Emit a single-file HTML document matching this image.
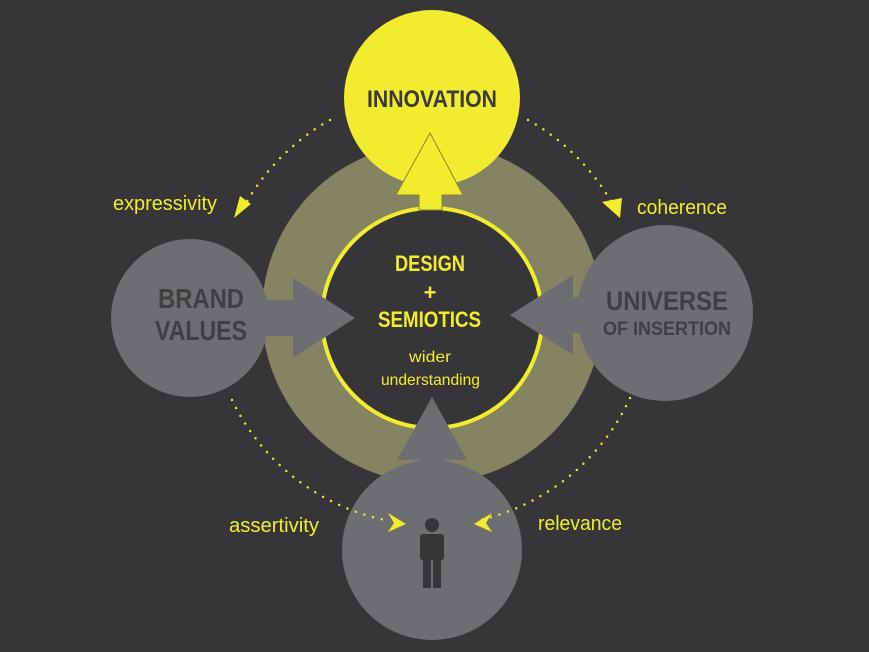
<!DOCTYPE html>
<html><head><meta charset="utf-8"><style>
html,body{margin:0;padding:0;background:#363638;}
svg{display:block}
.t{font-family:"Liberation Sans",sans-serif;font-weight:bold;}
.l{font-family:"Liberation Sans",sans-serif;}
</style></head><body>
<svg width="869" height="652" viewBox="0 0 869 652" xmlns="http://www.w3.org/2000/svg">
<rect width="869" height="652" fill="#363638"/>
<!-- olive ring -->
<circle cx="432" cy="313" r="170" fill="#858462"/>
<!-- innovation -->
<circle cx="432" cy="98" r="88" fill="#f2ec2e"/>
<!-- gray circles -->
<circle cx="190" cy="318" r="79" fill="#6d6e72"/>
<circle cx="665" cy="313" r="88" fill="#6d6e72"/>
<circle cx="432" cy="550" r="90" fill="#6d6e72"/>
<!-- inner circle -->
<circle cx="432" cy="318" r="110" fill="#363638" stroke="#f2ec2e" stroke-width="4"/>
<!-- dotted arcs -->
<g fill="none" stroke="#e8e22c" stroke-width="2.5" stroke-linecap="round" stroke-dasharray="0 9">
<path d="M330 120 A222 222 0 0 0 245 205"/>
<path d="M528 120 A222 222 0 0 1 612 203"/>
<path d="M232 400 A220 220 0 0 0 385 520"/>
<path d="M630 398 A220 220 0 0 1 480 520"/>
</g>
<!-- arc arrowheads -->
<g fill="#f2ec2e">
<polygon points="234,218 251,204 240,196"/>
<polygon points="602,202 620,218 622,198"/>
<polygon points="388,513 406,524 388,532 394,523"/>
<polygon points="474,524 492,513 486,523 492,532"/>
</g>
<!-- arrows -->
<polygon points="430,133 463,195 442,195 442,210 419,210 419,195 396,195" fill="#f2ec2e" stroke="#8a8530" stroke-width="1"/>
<polygon points="432,397 467,460 444,460 444,470 420,470 420,460 397,460" fill="#6d6e72"/>
<polygon points="355,318 293,278 293,300 262,300 262,336 293,336 293,358" fill="#6d6e72"/>
<polygon points="510,315 573,275 573,297 600,297 600,333 573,333 573,355" fill="#6d6e72"/>
<!-- person -->
<g fill="#363638">
<circle cx="432" cy="525" r="7"/>
<rect x="420" y="534" width="24" height="26" rx="3"/>
<rect x="423" y="556" width="8" height="32"/>
<rect x="433" y="556" width="8" height="32"/>
</g>
<!-- texts -->
<g class="t" fill="#404042" lengthAdjust="spacingAndGlyphs">
<text x="367" y="107" font-size="24" fill="#3a3a3c" textLength="130" lengthAdjust="spacingAndGlyphs">INNOVATION</text>
<text x="158" y="308" font-size="28" textLength="86" lengthAdjust="spacingAndGlyphs">BRAND</text>
<text x="155" y="340" font-size="28" textLength="92" lengthAdjust="spacingAndGlyphs">VALUES</text>
<text x="606" y="310" font-size="27" textLength="122" lengthAdjust="spacingAndGlyphs">UNIVERSE</text>
<text x="603" y="335" font-size="19" textLength="128" lengthAdjust="spacingAndGlyphs">OF INSERTION</text>
<text x="395" y="271" font-size="22" fill="#f2ec2e" textLength="70" lengthAdjust="spacingAndGlyphs">DESIGN</text>
<text x="430" y="300" font-size="22" fill="#f2ec2e" text-anchor="middle">+</text>
<text x="378" y="327" font-size="22" fill="#f2ec2e" textLength="103" lengthAdjust="spacingAndGlyphs">SEMIOTICS</text>
</g>
<g class="l" fill="#f2ec2e">
<text x="409" y="362" font-size="16" textLength="42" lengthAdjust="spacingAndGlyphs">wider</text>
<text x="381" y="385" font-size="16" textLength="99" lengthAdjust="spacingAndGlyphs">understanding</text>
<text x="113" y="210" font-size="20" textLength="104" lengthAdjust="spacingAndGlyphs">expressivity</text>
<text x="637" y="214" font-size="20" textLength="90" lengthAdjust="spacingAndGlyphs">coherence</text>
<text x="229" y="532" font-size="20" textLength="90" lengthAdjust="spacingAndGlyphs">assertivity</text>
<text x="538" y="530" font-size="20" textLength="84" lengthAdjust="spacingAndGlyphs">relevance</text>
</g>
</svg>
</body></html>
